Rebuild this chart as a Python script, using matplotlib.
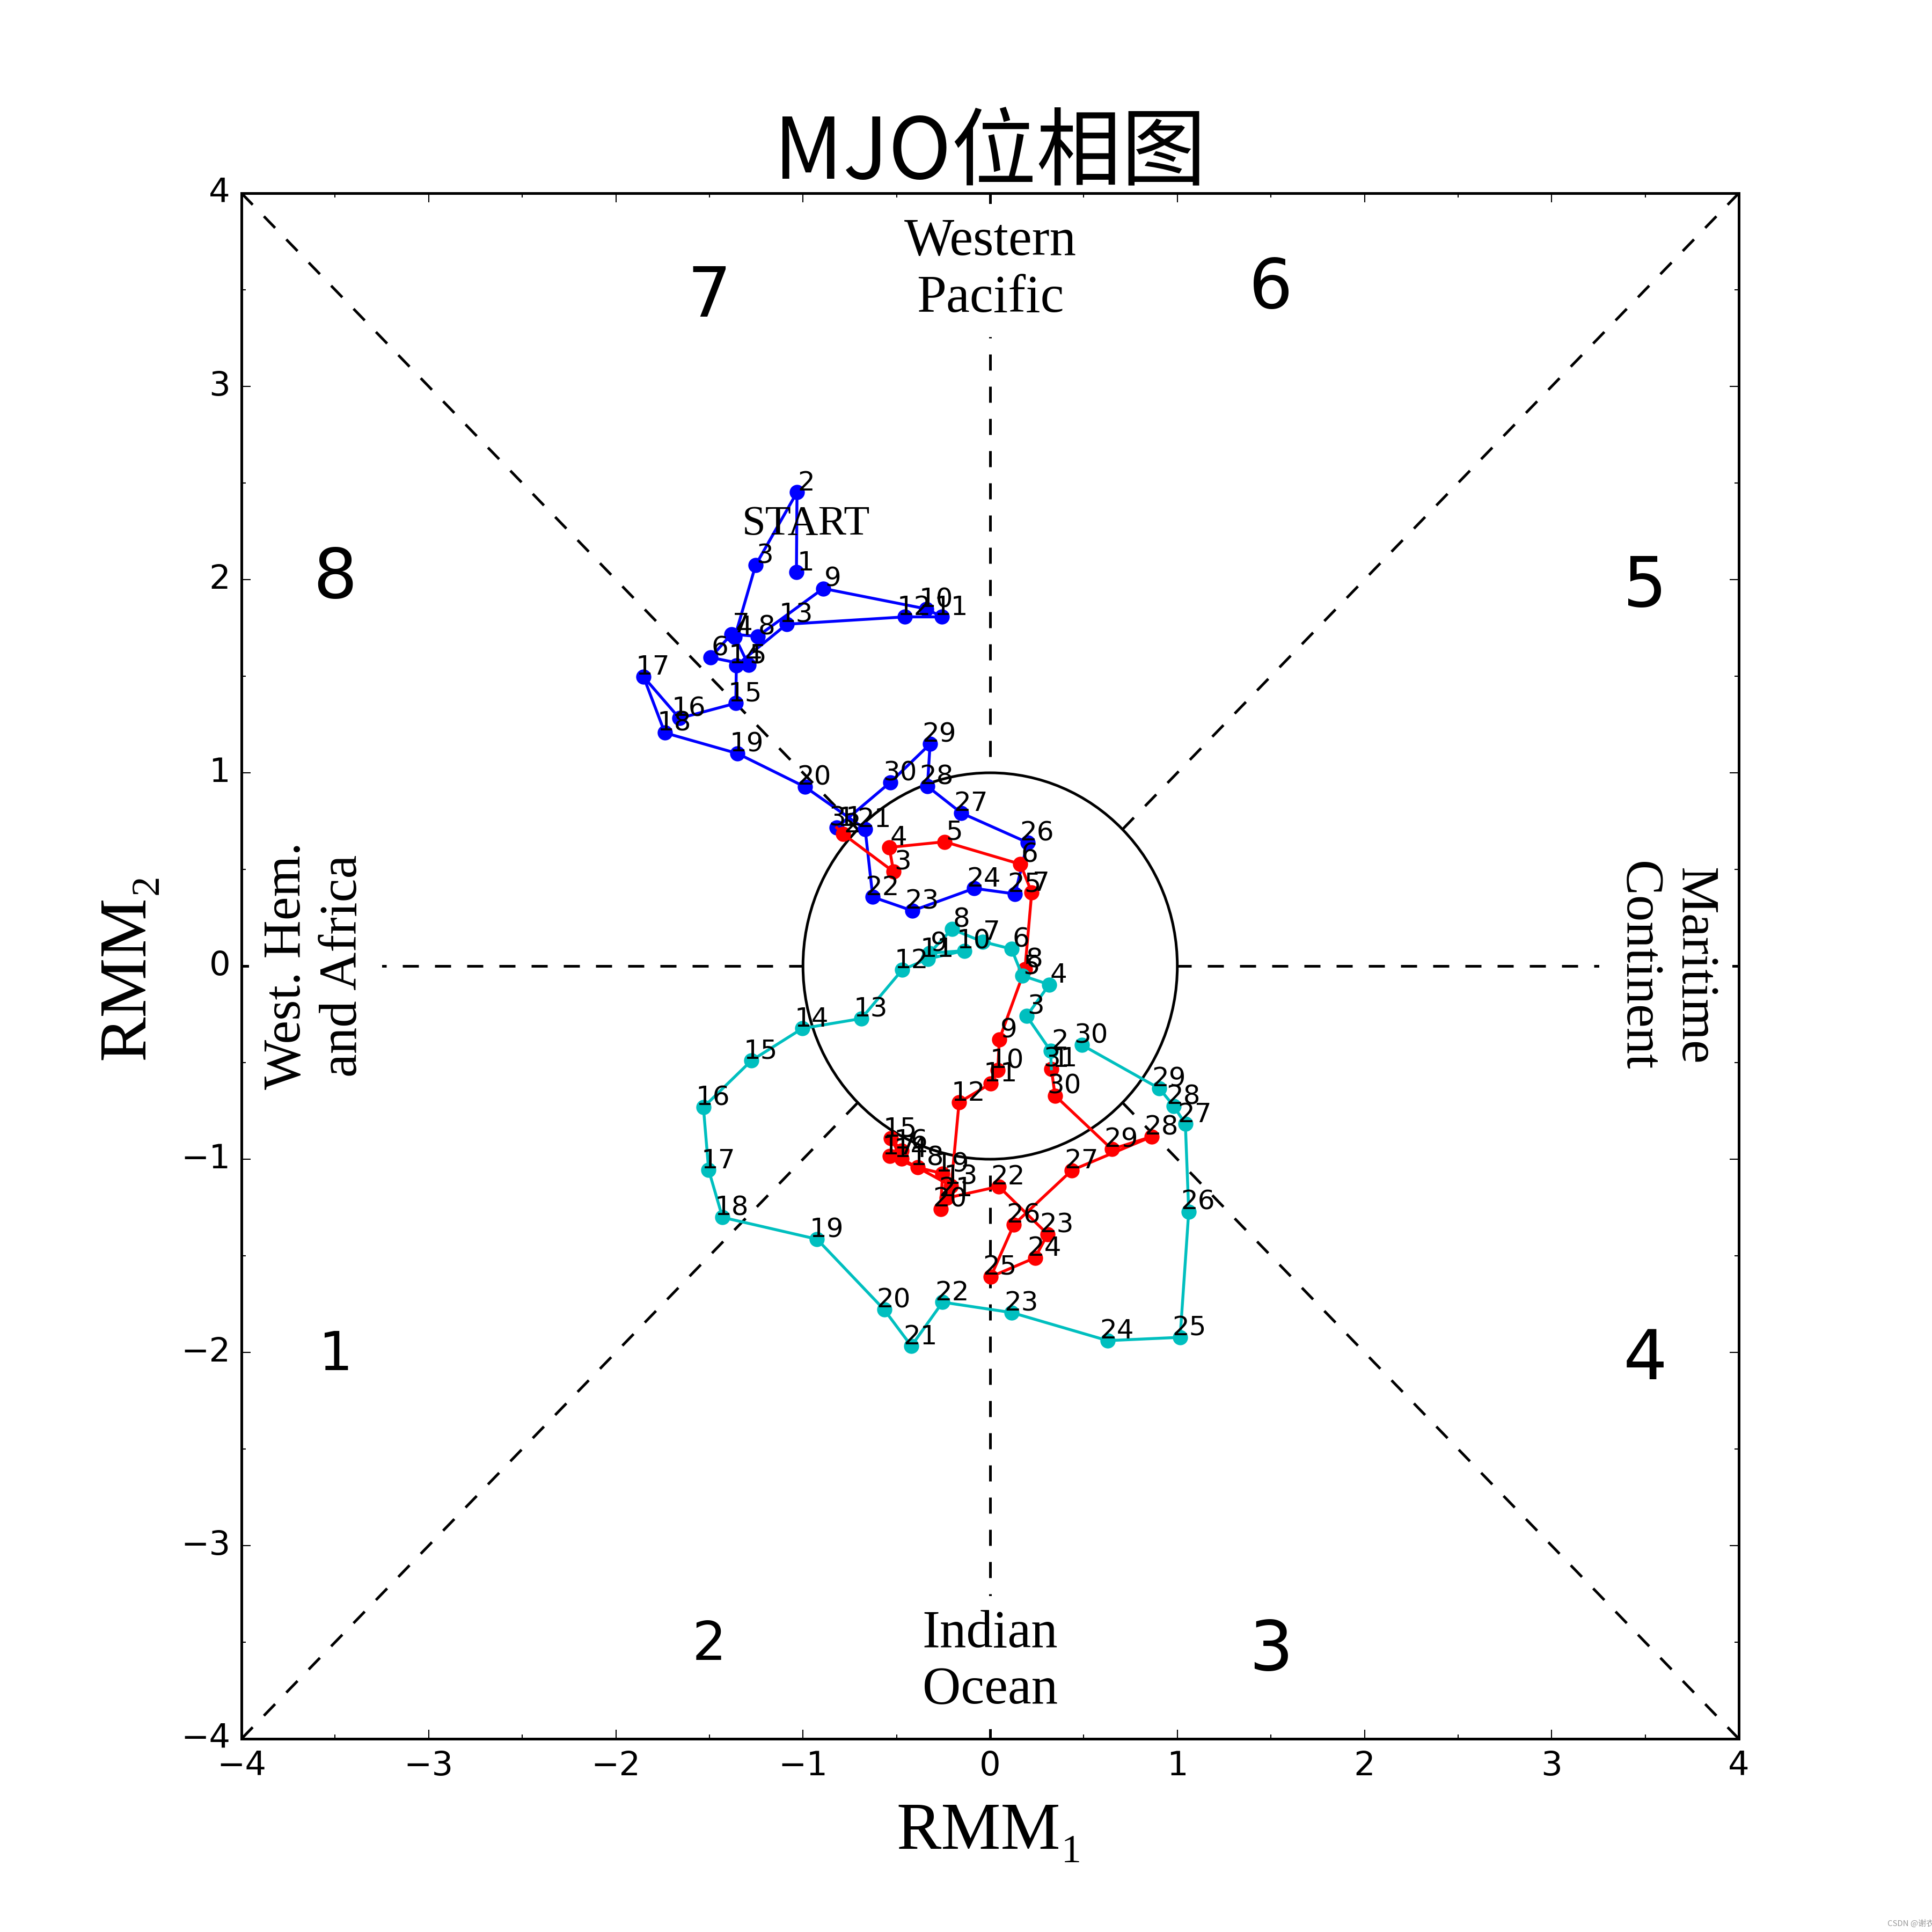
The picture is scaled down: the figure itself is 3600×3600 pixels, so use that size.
import numpy as np
import matplotlib
matplotlib.use("Agg")
import matplotlib.pyplot as plt

plt.style.use("classic")
plt.rcParams['font.family'] = ['DejaVu Sans', 'Noto Sans CJK SC']
plt.rcParams['axes.unicode_minus'] = True
plt.rcParams['axes.linewidth'] = 1.2

# first month (blue)
rmm1_a = [-1.035, -1.032, -1.253, -1.364, -1.291, -1.493, -1.382, -1.243, -0.892, -0.340,
          -0.258, -0.456, -1.087, -1.356, -1.359, -1.660, -1.852, -1.738, -1.350, -0.989,
          -0.668, -0.627, -0.415, -0.085, 0.133, 0.200, -0.154, -0.335, -0.321, -0.533, -0.820]
rmm2_a = [2.038, 2.452, 2.075, 1.704, 1.557, 1.597, 1.718, 1.706, 1.954, 1.848,
          1.807, 1.807, 1.769, 1.556, 1.360, 1.282, 1.497, 1.207, 1.100, 0.927,
          0.709, 0.357, 0.286, 0.402, 0.373, 0.639, 0.792, 0.930, 1.149, 0.951, 0.716]

# second month (red)
rmm1_b = [-0.820, -0.785, -0.516, -0.539, -0.243, 0.162, 0.222, 0.186, 0.049, 0.041,
          0.004, -0.166, -0.208, -0.473, -0.530, -0.473, -0.536, -0.388, -0.254, -0.265,
          -0.232, 0.046, 0.307, 0.240, 0.003, 0.127, 0.437, 0.864, 0.650, 0.347, 0.327]
rmm2_b = [0.716, 0.683, 0.488, 0.614, 0.643, 0.527, 0.380, -0.016, -0.380, -0.540,
          -0.608, -0.706, -1.138, -0.998, -0.892, -0.955, -0.984, -1.043, -1.074, -1.257,
          -1.201, -1.141, -1.388, -1.510, -1.609, -1.338, -1.057, -0.883, -0.948, -0.671, -0.532]

# third month (cyan)
rmm1_c = [0.327, 0.323, 0.195, 0.316, 0.172, 0.114, -0.041, -0.204, -0.324, -0.139,
          -0.333, -0.470, -0.688, -1.003, -1.275, -1.532, -1.504, -1.430, -0.925, -0.566,
          -0.421, -0.254, 0.116, 0.628, 1.015, 1.061, 1.043, 0.982, 0.904, 0.489]
rmm2_c = [-0.532, -0.439, -0.259, -0.096, -0.050, 0.088, 0.126, 0.191, 0.067, 0.079,
          0.037, -0.020, -0.272, -0.323, -0.489, -0.731, -1.056, -1.301, -1.414, -1.779,
          -1.967, -1.740, -1.794, -1.939, -1.922, -1.271, -0.818, -0.726, -0.634, -0.408]

phase_labels = ['1', '2', '3', '4', '5', '6', '7', '8']
phase_x = [-3.5, -1.5, 1.5, 3.5, 3.5, 1.5, -1.5, -3.5]
phase_y = [-2.015, -3.515, -3.545, -2.04, 1.96, 3.505, 3.46, 2.005]
# the original face has old-style figures, 1 and 2 are small
phase_size = [24, 24, 31, 31, 31, 31, 31, 31]
ticks = [-4, -3, -2, -1, 0, 1, 2, 3, 4]

fig = plt.figure(figsize=(12, 12), facecolor='w')
ax = fig.add_subplot(111)
ax.set_xlim(-4, 4)
ax.set_ylim(-4, 4)
ax.set_xticks(ticks)
ax.set_yticks(ticks)
ax.set_xticks(np.arange(-3.5, 4, 1), minor=True)
ax.set_yticks(np.arange(-3.5, 4, 1), minor=True)
ax.tick_params(labelsize=15, pad=5)

# phase boundaries, drawn from the frame in to the unit circle
dash = (0, (7.2, 7.2))
dash_lw = 1.2
d = np.sqrt(2) / 2
ax.plot([-4, -1], [0, 0], color='k', lw=dash_lw, ls=dash)
ax.plot([4, 1], [0, 0], color='k', lw=dash_lw, ls=dash)
ax.plot([0, 0], [-4, -1], color='k', lw=dash_lw, ls=dash)
ax.plot([0, 0], [4, 1], color='k', lw=dash_lw, ls=dash)
ax.plot([-4, -d], [-4, -d], color='k', lw=dash_lw, ls=dash)
ax.plot([4, d], [4, d], color='k', lw=dash_lw, ls=dash)
ax.plot([-4, -d], [4, d], color='k', lw=dash_lw, ls=dash)
ax.plot([4, d], [-4, -d], color='k', lw=dash_lw, ls=dash)
ax.add_patch(plt.Circle((0, 0), 1, fill=False, ec='k', lw=1.2, zorder=2))

# later months start on the last day of the month before, no marker of their own there
for xs, ys, col, skip in [(rmm1_a, rmm2_a, 'b', 0), (rmm1_b, rmm2_b, 'r', 1), (rmm1_c, rmm2_c, 'c', 1)]:
    ax.plot(xs, ys, color=col, lw=1.3)
    ax.plot(xs[skip:], ys[skip:], color=col, ls='none', marker='o', ms=6.3, mec=col)
    for i in range(len(xs)):
        ax.text(xs[i] + 0.05, ys[i] + 0.01, str(i + 1), fontsize=12, ha='center', va='baseline')

for lab, px, py, sz in zip(phase_labels, phase_x, phase_y, phase_size):
    ax.text(px, py, lab, fontsize=sz, ha='center', va='center')

box = dict(fc='w', ec='none', pad=6.5)
ax.text(0, 3.60, 'Western\nPacific', family='Liberation Serif', fontsize=23.7, ha='center', va='center',
        linespacing=1.22, bbox=box)
ax.text(0, -3.605, 'Indian\nOcean', family='Liberation Serif', fontsize=23.7, ha='center', va='center',
        linespacing=1.22, bbox=box)
ax.text(-3.605, 0, 'West. Hem.\nand Africa', family='Liberation Serif', fontsize=23.7, ha='center', va='center',
        rotation=90, linespacing=1.22, bbox=box)
ax.text(3.61, 0, 'Maritime\nContinent', family='Liberation Serif', fontsize=23.7, ha='center', va='center',
        rotation=270, linespacing=1.22, bbox=box)
ax.text(-0.985, 2.285, 'START', family='Liberation Serif', fontsize=18.9, ha='center', va='center')

ax.set_title('MJO位相图', family=['Noto Sans CJK SC', 'DejaVu Sans'], fontsize=38, y=1.002)
ax.set_xlabel('RMM₁', family=['Liberation Serif', 'DejaVu Sans'], fontsize=30, labelpad=9)
ax.set_ylabel('RMM₂', family=['Liberation Serif', 'DejaVu Sans'], fontsize=30, labelpad=10)

fig.text(3517 / 3600, 1 - 3589 / 3600, 'CSDN @谢衣', family=['Noto Sans CJK SC', 'DejaVu Sans'],
         fontsize=3.6, color='#999999')

fig.savefig('out.png', dpi=300, facecolor='w')
